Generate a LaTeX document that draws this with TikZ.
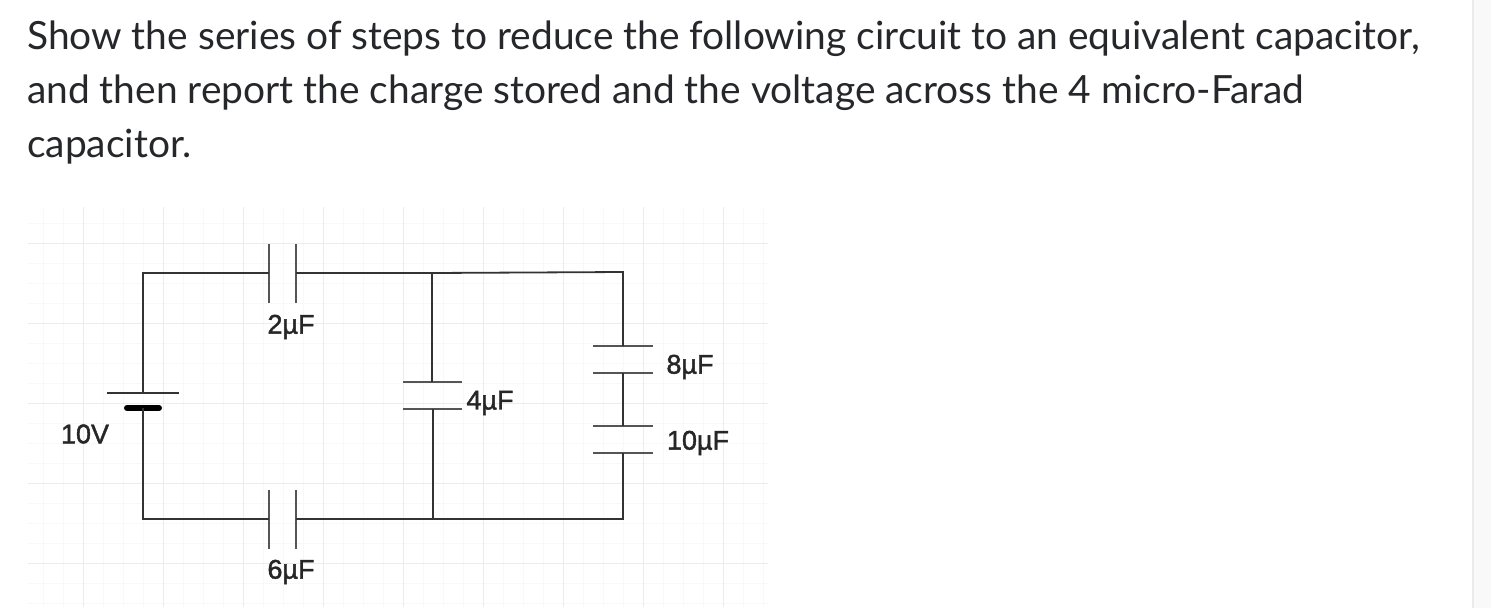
\documentclass[tikz,border=0pt]{standalone}
\usepackage{fontspec}
\setmainfont{Lato}
\newfontfamily\labfont[FakeBold=1.5]{Liberation Sans}
\definecolor{gridminor}{HTML}{F8F8F8}
\definecolor{gridmajor}{HTML}{ECECEC}
\definecolor{wirecol}{HTML}{333333}
\definecolor{platecol}{HTML}{555555}
\definecolor{txt}{HTML}{25272B}
\tikzset{
  wire/.style={draw=wirecol,line width=1.8pt},
  plate/.style={draw=platecol,line width=2.2pt},
  thickplate/.style={draw=black,line width=6pt,line cap=round},
  para/.style={anchor=base west,inner sep=0pt,text=txt,font=\fontsize{38.9}{38.9}\selectfont},
  lab/.style={inner sep=0pt,text=black!85,font=\labfont\fontsize{27}{27}\selectfont}
}
\begin{document}
\begin{tikzpicture}[x=1pt,y=-1pt]
\useasboundingbox (0,0) rectangle (1491,608);
\fill[white] (0,0) rectangle (1491,608);
\fill[black!2.5] (1473,0) rectangle (1491,608);
\draw[draw=black!8,line width=1.5pt] (1473,0) -- (1473,608);
% grid
\foreach \x in {43,63,...,763} \draw[gridminor,line width=1pt] (\x,207) -- (\x,607);
\foreach \y in {223,243,...,603} \draw[gridminor,line width=1pt] (28,\y) -- (768,\y);
\foreach \x in {83,163,...,723} \draw[gridmajor,line width=1pt] (\x,207) -- (\x,607);
\foreach \y in {243,323,...,563} \draw[gridmajor,line width=1pt] (28,\y) -- (768,\y);
% text
\node[para] (l1) at (27,49) {Show the series of steps to reduce the following circuit to an equivalent capacitor,};
\node[para] (l2) at (27,103) {and then report the charge stored and the voltage across the 4 micro-Farad};
\node[para] (l3) at (27,157) {capacitor.};
% junctions
\coordinate (tl) at (143,273);
\coordinate (bl) at (143,519);
\coordinate (tm) at (432,273);
\coordinate (bm) at (433,519);
\coordinate (tr) at (623,272);
\coordinate (br) at (623,519);
% top capacitor
\coordinate (c2a) at (269,273); \coordinate (c2b) at (296,273);
\draw[plate] (269,244) -- (269,303);
\draw[plate] (296,244) -- (296,303);
% bottom capacitor
\coordinate (c6a) at (269,519); \coordinate (c6b) at (296,519);
\draw[plate] (269,490) -- (269,549);
\draw[plate] (296,490) -- (296,549);
% battery
\coordinate (bp) at (143,393); \coordinate (bn) at (143,408);
\draw[plate,draw=wirecol] (107,393) -- (179,393);
\draw[thickplate] (127,408) -- (159,408);
% 4uF
\coordinate (c4a) at (432,382); \coordinate (c4b) at (433,409);
\draw[plate] (403,382) -- (462,382);
\draw[plate] (403,409) -- (462,409);
% 8uF
\coordinate (c8a) at (623,346); \coordinate (c8b) at (623,373);
\draw[plate] (593,346) -- (653,346);
\draw[plate] (593,373) -- (653,373);
% 10uF
\coordinate (c10a) at (623,426); \coordinate (c10b) at (623,453);
\draw[plate] (593,426) -- (653,426);
\draw[plate] (593,453) -- (653,453);
% wires
\draw[wire] (bp) -- (tl) -- (c2a);
\draw[wire] (c2b) -- (tm) -- (tr) -- (c8a);
\draw[wire] (c8b) -- (c10a);
\draw[wire] (c10b) -- (br) -- (bm) -- (c6b);
\draw[wire] (c6a) -- (bl) -- (bn);
\draw[wire] (tm) -- (c4a);
\draw[wire] (c4b) -- (bm);
% labels
\node[lab] (n2) at (291,327) {2µF};
\node[lab] (n6) at (291,572) {6µF};
\node[lab] (n10v) at (85,434) {10V};
\node[lab] (n4) at (490,403) {4µF};
\node[lab] (n8) at (690,367) {8µF};
\node[lab] (n10) at (698,443) {10µF};
\end{tikzpicture}
\end{document}
